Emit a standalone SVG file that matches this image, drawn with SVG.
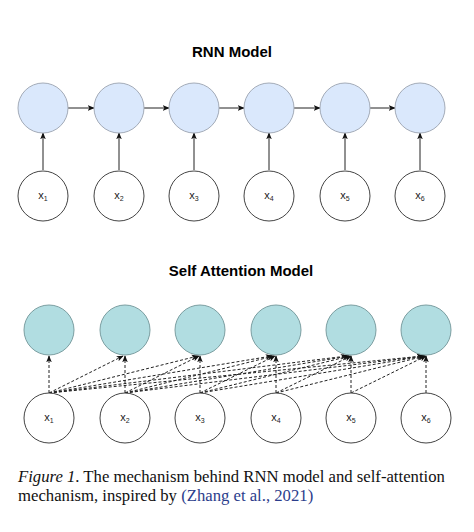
<svg xmlns="http://www.w3.org/2000/svg" width="474" height="532" viewBox="0 0 474 532">
<style>
.title{font-family:"Liberation Sans",Arial,sans-serif;font-weight:bold;font-size:15px;fill:#000;text-anchor:middle}
.rnn{fill:#dae8fc;stroke:#a3abb8;stroke-width:1}
.sa{fill:#b1dde1;stroke:#7b9ea1;stroke-width:1}
.inp{fill:#fff;stroke:#444;stroke-width:1}
.lbl{font-family:"Liberation Sans",Arial,sans-serif;font-size:11px;fill:#222;text-anchor:middle}
.sub{font-size:7px}
.solid{stroke:#222;stroke-width:1;fill:none;marker-end:url(#ah)}
.dash{stroke:#222;stroke-width:1;fill:none;stroke-dasharray:3 2;marker-end:url(#ah)}
.cap{font-family:"Liberation Serif","Times New Roman",serif;font-size:16.7px;fill:#111}
</style>
<defs>
<marker id="ah" viewBox="0 0 10 10" refX="9" refY="5" markerWidth="7" markerHeight="7" orient="auto" markerUnits="userSpaceOnUse">
<path d="M0,1 L10,5 L0,9 L2.5,5 Z" fill="#111"/>
</marker>
</defs>
<rect width="474" height="532" fill="#fff"/>
<text class="title" x="232" y="57">RNN Model</text>
<text class="title" x="241" y="276">Self Attention Model</text>

<g id="rnn-connectors">
<line class="solid" x1="68" y1="108" x2="94" y2="108"/>
<line class="solid" x1="144" y1="108" x2="169" y2="108"/>
<line class="solid" x1="219" y1="108" x2="244" y2="108"/>
<line class="solid" x1="294" y1="108" x2="320" y2="108"/>
<line class="solid" x1="370" y1="108" x2="395" y2="108"/>
<line class="solid" x1="43" y1="170" x2="43" y2="133"/>
<line class="solid" x1="119" y1="170" x2="119" y2="133"/>
<line class="solid" x1="194" y1="170" x2="194" y2="133"/>
<line class="solid" x1="269" y1="170" x2="269" y2="133"/>
<line class="solid" x1="345" y1="170" x2="345" y2="133"/>
<line class="solid" x1="420" y1="170" x2="420" y2="133"/>
</g>

<g id="rnn-h1"><circle class="rnn" cx="43" cy="108" r="25"/></g>
<g id="rnn-h2"><circle class="rnn" cx="119" cy="108" r="25"/></g>
<g id="rnn-h3"><circle class="rnn" cx="194" cy="108" r="25"/></g>
<g id="rnn-h4"><circle class="rnn" cx="269" cy="108" r="25"/></g>
<g id="rnn-h5"><circle class="rnn" cx="345" cy="108" r="25"/></g>
<g id="rnn-h6"><circle class="rnn" cx="420" cy="108" r="25"/></g>

<g id="rnn-x1"><circle class="inp" cx="43" cy="196" r="25"/><text class="lbl" x="43" y="199">x<tspan class="sub" dy="2">1</tspan></text></g>
<g id="rnn-x2"><circle class="inp" cx="119" cy="196" r="25"/><text class="lbl" x="119" y="199">x<tspan class="sub" dy="2">2</tspan></text></g>
<g id="rnn-x3"><circle class="inp" cx="194" cy="196" r="25"/><text class="lbl" x="194" y="199">x<tspan class="sub" dy="2">3</tspan></text></g>
<g id="rnn-x4"><circle class="inp" cx="269" cy="196" r="25"/><text class="lbl" x="269" y="199">x<tspan class="sub" dy="2">4</tspan></text></g>
<g id="rnn-x5"><circle class="inp" cx="345" cy="196" r="25"/><text class="lbl" x="345" y="199">x<tspan class="sub" dy="2">5</tspan></text></g>
<g id="rnn-x6"><circle class="inp" cx="420" cy="196" r="25"/><text class="lbl" x="420" y="199">x<tspan class="sub" dy="2">6</tspan></text></g>

<g id="sa-connectors">
<line class="dash" x1="49" y1="393" x2="49" y2="356"/>
<line class="dash" x1="49" y1="393" x2="123" y2="356"/>
<line class="dash" x1="49" y1="393" x2="198" y2="356"/>
<line class="dash" x1="49" y1="393" x2="272" y2="356"/>
<line class="dash" x1="49" y1="393" x2="347" y2="356"/>
<line class="dash" x1="49" y1="393" x2="423" y2="356"/>
<line class="dash" x1="125" y1="393" x2="125" y2="356"/>
<line class="dash" x1="125" y1="393" x2="199" y2="356"/>
<line class="dash" x1="125" y1="393" x2="274" y2="356"/>
<line class="dash" x1="125" y1="393" x2="349" y2="356"/>
<line class="dash" x1="125" y1="393" x2="424" y2="356"/>
<line class="dash" x1="200" y1="393" x2="200" y2="356"/>
<line class="dash" x1="200" y1="393" x2="275" y2="356"/>
<line class="dash" x1="200" y1="393" x2="350" y2="356"/>
<line class="dash" x1="200" y1="393" x2="425" y2="356"/>
<line class="dash" x1="276" y1="393" x2="276" y2="356"/>
<line class="dash" x1="276" y1="393" x2="351" y2="356"/>
<line class="dash" x1="276" y1="393" x2="425" y2="356"/>
<line class="dash" x1="351" y1="393" x2="351" y2="356"/>
<line class="dash" x1="351" y1="393" x2="426" y2="356"/>
<line class="dash" x1="426" y1="393" x2="426" y2="356"/>
</g>

<g id="sa-h1"><circle class="sa" cx="49" cy="330" r="25"/></g>
<g id="sa-h2"><circle class="sa" cx="125" cy="330" r="25"/></g>
<g id="sa-h3"><circle class="sa" cx="200" cy="330" r="25"/></g>
<g id="sa-h4"><circle class="sa" cx="276" cy="330" r="25"/></g>
<g id="sa-h5"><circle class="sa" cx="351" cy="330" r="25"/></g>
<g id="sa-h6"><circle class="sa" cx="426" cy="330" r="25"/></g>

<g id="sa-x1"><circle class="inp" cx="49" cy="418" r="25"/><text class="lbl" x="49" y="421">x<tspan class="sub" dy="2">1</tspan></text></g>
<g id="sa-x2"><circle class="inp" cx="125" cy="418" r="25"/><text class="lbl" x="125" y="421">x<tspan class="sub" dy="2">2</tspan></text></g>
<g id="sa-x3"><circle class="inp" cx="200" cy="418" r="25"/><text class="lbl" x="200" y="421">x<tspan class="sub" dy="2">3</tspan></text></g>
<g id="sa-x4"><circle class="inp" cx="276" cy="418" r="25"/><text class="lbl" x="276" y="421">x<tspan class="sub" dy="2">4</tspan></text></g>
<g id="sa-x5"><circle class="inp" cx="351" cy="418" r="25"/><text class="lbl" x="351" y="421">x<tspan class="sub" dy="2">5</tspan></text></g>
<g id="sa-x6"><circle class="inp" cx="426" cy="418" r="25"/><text class="lbl" x="426" y="421">x<tspan class="sub" dy="2">6</tspan></text></g>

<g id="caption">
<text class="cap" x="18" y="482"><tspan font-style="italic">Figure 1</tspan>. The mechanism behind RNN model and self-attention</text>
<text class="cap" x="18" y="501">mechanism, inspired by <tspan fill="#2b3d8c">(Zhang et al., 2021)</tspan></text>
</g>
</svg>
